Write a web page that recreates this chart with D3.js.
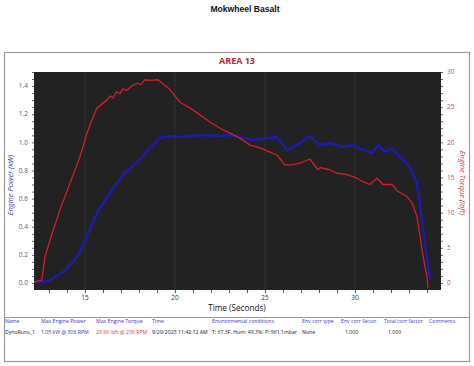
<!DOCTYPE html>
<html lang="en">
<head>
<meta charset="UTF-8">
<title>Mokwheel Basalt</title>
<style>
  body { margin: 0; padding: 0; background: #ffffff; overflow: hidden; }
  svg text { font-family: 'Open Sans', 'Noto Sans', sans-serif; }
</style>
</head>
<body>
<div id="chart"></div>
<script src="https://d3js.org/d3.v7.min.js"></script>
<script>
  const width = 474;
  const height = 366;

  // power curve (kW) vs time (s)
  const powerTime = [12.3, 13.06, 13.78, 14.33, 14.72, 15.17, 15.67, 16.39, 17.11, 17.89, 18.5, 19.17, 19.72, 20.28, 21.39, 22.5, 23.06, 23.61, 24.33, 25.11, 25.67, 26.22, 26.78, 27.5, 28.06, 28.61, 29.33, 29.89, 30.44, 30.94, 31.28, 31.67, 32.06, 32.39, 32.78, 33.17, 33.44, 33.61, 33.78, 34.0, 34.17];
  const powerKw = [0.0, 0.02, 0.078, 0.149, 0.22, 0.355, 0.497, 0.64, 0.768, 0.86, 0.945, 1.03, 1.045, 1.037, 1.052, 1.045, 1.052, 1.037, 1.016, 1.03, 1.037, 0.945, 0.98, 1.045, 0.98, 0.995, 0.967, 0.98, 0.945, 0.924, 0.98, 0.931, 0.96, 0.91, 0.86, 0.80, 0.71, 0.569, 0.377, 0.18, 0.02];

  // torque curve (lbft) vs time (s)
  const torqueTime = [12.1, 12.6, 12.78, 13.06, 13.61, 14.17, 14.72, 15.11, 15.39, 15.67, 16.22, 16.4, 16.56, 16.75, 16.94, 17.1, 17.33, 17.6, 17.89, 18.1, 18.33, 18.6, 19.06, 19.72, 20.28, 20.83, 21.39, 21.94, 22.5, 23.06, 23.61, 24.17, 24.72, 25.28, 25.67, 26.11, 26.56, 27.11, 27.5, 27.94, 28.06, 28.61, 29.0, 29.56, 30.11, 30.44, 30.83, 31.22, 31.56, 32.06, 32.39, 32.89, 33.17, 33.44, 33.61, 33.78, 34.0, 34.06];
  const torqueLbft = [0.1, 0.4, 3.7, 6.1, 10.4, 14.2, 17.9, 21.3, 23.2, 24.9, 26.0, 26.6, 26.3, 27.2, 26.9, 27.6, 27.4, 28.0, 28.4, 28.2, 28.9, 28.8, 28.9, 27.5, 25.7, 24.9, 23.9, 22.9, 22.0, 21.3, 20.6, 19.6, 19.2, 18.6, 18.2, 16.8, 16.8, 17.2, 17.6, 16.1, 16.4, 16.1, 15.6, 15.4, 14.9, 14.4, 14.0, 14.9, 14.0, 14.0, 13.0, 12.3, 11.4, 9.5, 6.7, 3.8, 0.85, -0.7];

  const xTicks = [15, 20, 25, 30];
  const leftTicks = [0.0, 0.2, 0.4, 0.6, 0.8, 1.0, 1.2, 1.4];
  const rightTicks = [0, 5, 10, 15, 20, 25, 30];

  const tableHeaders = ['Name', 'Max Engine Power', 'Max Engine Torque', 'Time', 'Environmental conditions', 'Env corr type', 'Env corr factor', 'Total corr factor', 'Comments'];
  const tableRow = ['DynoRuns_1', '1.05 kW @ 306 RPM', '28.96 lbft @ 236 RPM', '9/29/2023 11:42:12 AM', 'T: 67.3F, Hum: 49.3%, P: 961.1mbar', 'None', '1.000', '1.000', ''];
  const tableCols = [5, 41, 96, 152, 212, 302, 341, 384, 429];
  const rowOffset = [0, 0, 0, 0, 0, 0, 4, 4, 0];
  const rowColors = ['#222', '#3030b0', '#d04040', '#222', '#222', '#222', '#222', '#222', '#222'];

  const plot = { left: 34, right: 441, top: 72, bottom: 290 };

  const svg = d3.select('#chart').append('svg')
    .attr('width', width)
    .attr('height', height);

  svg.append('text')
    .attr('x', 245).attr('y', 12)
    .attr('text-anchor', 'middle')
    .style('font-family', "'Liberation Sans', Arial, sans-serif")
    .style('font-size', '8.6px')
    .style('font-weight', 'bold')
    .attr('fill', '#111')
    .text('Mokwheel Basalt');

  // outer frame + table divider
  svg.append('rect')
    .attr('x', 4.5).attr('y', 52.5)
    .attr('width', 465).attr('height', 309)
    .attr('fill', 'none')
    .attr('stroke', '#9a9a9a')
    .attr('stroke-width', 1.2);
  svg.append('line')
    .attr('x1', 4.5).attr('x2', 469.5)
    .attr('y1', 317.5).attr('y2', 317.5)
    .attr('stroke', '#9a9a9a')
    .attr('stroke-width', 1);

  svg.append('text')
    .attr('x', 237).attr('y', 64)
    .attr('text-anchor', 'middle')
    .style('font-size', '9px')
    .style('font-weight', 'bold')
    .attr('fill', '#c0282d')
    .text('AREA 13');

  const x = d3.scaleLinear().domain([12.17, 34.78]).range([plot.left, plot.right]);
  const yL = d3.scaleLinear().domain([-0.05, 1.5]).range([plot.bottom, plot.top]);
  const yR = d3.scaleLinear().domain([-1, 30]).range([plot.bottom, plot.top]);

  svg.append('rect')
    .attr('x', plot.left).attr('y', plot.top)
    .attr('width', plot.right - plot.left)
    .attr('height', plot.bottom - plot.top)
    .attr('fill', '#222222');

  // vertical grid at major ticks
  svg.append('g').selectAll('line')
    .data(xTicks)
    .enter().append('line')
    .attr('x1', d => x(d)).attr('x2', d => x(d))
    .attr('y1', plot.top).attr('y2', plot.bottom)
    .attr('stroke', '#3e3e3e')
    .attr('stroke-dasharray', '1,1');

  // x axis
  const xAxis = svg.append('g')
    .attr('transform', `translate(0,${plot.bottom})`)
    .call(d3.axisBottom(x).tickValues(d3.range(13, 35, 1)).tickSize(3).tickFormat(''));
  xAxis.select('.domain').remove();
  xAxis.selectAll('line').attr('stroke', '#555');
  svg.append('g').selectAll('text')
    .data(xTicks)
    .enter().append('text')
    .attr('x', d => x(d)).attr('y', 300)
    .attr('text-anchor', 'middle')
    .style('font-size', '6.5px')
    .attr('fill', '#333')
    .text(d => d);

  svg.append('text')
    .attr('x', 237).attr('y', 311)
    .attr('text-anchor', 'middle')
    .style('font-size', '8.2px')
    .attr('fill', '#111')
    .text('Time (Seconds)');

  // left axis
  const leftAxis = svg.append('g')
    .attr('transform', `translate(${plot.left},0)`)
    .call(d3.axisLeft(yL).tickValues(d3.range(0, 1.51, 0.05)).tickSize(2).tickFormat(''));
  leftAxis.select('.domain').remove();
  leftAxis.selectAll('line').attr('stroke', '#666');
  svg.append('g').selectAll('text')
    .data(leftTicks)
    .enter().append('text')
    .attr('x', 28).attr('y', d => yL(d) + 2.3)
    .attr('text-anchor', 'end')
    .style('font-size', '6.5px')
    .attr('fill', '#55558a')
    .text(d => d.toFixed(1));

  svg.append('text')
    .attr('transform', `translate(13,${(plot.top + plot.bottom) / 2 + 4}) rotate(-90)`)
    .attr('text-anchor', 'middle')
    .style('font-size', '7.5px')
    .style('font-style', 'italic')
    .attr('fill', '#4040c0')
    .text('Engine Power (kW)');

  // right axis
  const rightAxis = svg.append('g')
    .attr('transform', `translate(${plot.right},0)`)
    .call(d3.axisRight(yR).tickValues(d3.range(0, 30.1, 1)).tickSize(2).tickFormat(''));
  rightAxis.select('.domain').remove();
  rightAxis.selectAll('line').attr('stroke', '#666');
  svg.append('g').selectAll('text')
    .data(rightTicks)
    .enter().append('text')
    .attr('x', 447).attr('y', d => yR(d) + 2.3)
    .style('font-size', '6.5px')
    .attr('fill', '#c0504d')
    .text(d => d);

  svg.append('text')
    .attr('transform', `translate(460,${(plot.top + plot.bottom) / 2 + 2}) rotate(90)`)
    .attr('text-anchor', 'middle')
    .style('font-size', '7.5px')
    .style('font-style', 'italic')
    .attr('fill', '#c0392b')
    .text('Engine Torque (lbft)');

  // curves
  svg.append('clipPath').attr('id', 'plotclip')
    .append('rect')
    .attr('x', plot.left).attr('y', plot.top)
    .attr('width', plot.right - plot.left)
    .attr('height', plot.bottom - plot.top);

  const powerData = powerTime.map((t, i) => [t, powerKw[i]]);
  const torqueData = torqueTime.map((t, i) => [t, torqueLbft[i]]);

  svg.append('path')
    .datum(powerData)
    .attr('clip-path', 'url(#plotclip)')
    .attr('fill', 'none')
    .attr('stroke', '#1c1ca6')
    .attr('stroke-width', 2.6)
    .attr('stroke-linejoin', 'round')
    .attr('d', d3.line().x(d => x(d[0])).y(d => yL(d[1])));

  svg.append('path')
    .datum(torqueData)
    .attr('clip-path', 'url(#plotclip)')
    .attr('fill', 'none')
    .attr('stroke', '#d0202a')
    .attr('stroke-width', 1.3)
    .attr('stroke-linejoin', 'round')
    .attr('d', d3.line().x(d => x(d[0])).y(d => yR(d[1])));

  // table
  svg.append('g').selectAll('text')
    .data(tableHeaders)
    .enter().append('text')
    .attr('x', (d, i) => tableCols[i]).attr('y', 323)
    .style('font-size', '5.2px')
    .attr('fill', '#3a3ab8')
    .text(d => d);

  svg.append('g').selectAll('text')
    .data(tableRow)
    .enter().append('text')
    .attr('x', (d, i) => tableCols[i] + rowOffset[i]).attr('y', 334)
    .style('font-size', '5.2px')
    .attr('fill', (d, i) => rowColors[i])
    .text(d => d);
</script>
</body>
</html>
